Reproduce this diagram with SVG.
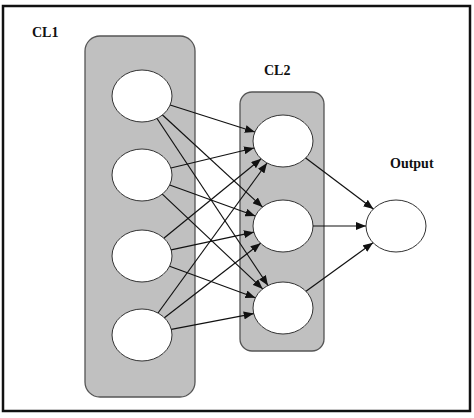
<svg xmlns="http://www.w3.org/2000/svg" width="474" height="418" viewBox="0 0 474 418">
<style>
.lbl{font-family:"Liberation Serif","Times New Roman",serif;font-weight:bold;font-size:14px;fill:#111}
.layer{fill:#c0c0c0;stroke:#555;stroke-width:1.3}
.node{fill:#fff;stroke:#333;stroke-width:1}
.con{stroke:#111;stroke-width:1.2;fill:none;marker-end:url(#ah)}
</style>
<defs>
<marker id="ah" markerWidth="10" markerHeight="8" refX="10" refY="4" orient="auto" markerUnits="userSpaceOnUse">
<path d="M0,0 L10,4 L0,8 z" fill="#111"/>
</marker>
</defs>
<rect x="0" y="0" width="474" height="418" fill="#fff"/>
<rect x="3" y="6" width="467" height="405" fill="#fff" stroke="#111" stroke-width="2.5"/>
<g id="CL1">
<rect class="layer" x="85" y="36" width="110" height="361" rx="15"/>
<text class="lbl" x="32" y="37">CL1</text>
</g>
<g id="CL2">
<rect class="layer" x="240" y="92" width="84" height="259" rx="12"/>
<text class="lbl" x="264" y="75">CL2</text>
</g>
<g id="A1"><ellipse class="node" cx="142" cy="96" rx="30" ry="26"/></g>
<g id="A2"><ellipse class="node" cx="142" cy="175" rx="30" ry="26"/></g>
<g id="A3"><ellipse class="node" cx="142" cy="256" rx="30" ry="26"/></g>
<g id="A4"><ellipse class="node" cx="142" cy="335" rx="30" ry="26"/></g>
<g id="B1"><ellipse class="node" cx="283" cy="141" rx="30" ry="26"/></g>
<g id="B2"><ellipse class="node" cx="283" cy="226" rx="30" ry="26"/></g>
<g id="B3"><ellipse class="node" cx="283" cy="308" rx="30" ry="26"/></g>
<g id="Output">
<ellipse class="node" cx="396" cy="226" rx="30" ry="26"/>
<text class="lbl" x="390" y="168">Output</text>
</g>
<g id="connectors">
<line class="con" x1="170.1" y1="105.0" x2="254.9" y2="132.0"/>
<line class="con" x1="162.5" y1="115.0" x2="262.5" y2="207.1"/>
<line class="con" x1="157.0" y1="118.5" x2="268.0" y2="285.5"/>
<line class="con" x1="170.9" y1="168.0" x2="254.1" y2="148.0"/>
<line class="con" x1="169.7" y1="185.0" x2="255.3" y2="216.0"/>
<line class="con" x1="162.3" y1="194.1" x2="262.7" y2="288.9"/>
<line class="con" x1="163.8" y1="238.2" x2="261.2" y2="158.8"/>
<line class="con" x1="171.1" y1="249.8" x2="253.9" y2="232.2"/>
<line class="con" x1="169.6" y1="266.2" x2="255.4" y2="297.8"/>
<line class="con" x1="158.0" y1="313.0" x2="267.0" y2="163.0"/>
<line class="con" x1="164.4" y1="317.7" x2="260.6" y2="243.3"/>
<line class="con" x1="171.3" y1="329.4" x2="253.7" y2="313.6"/>
<line class="con" x1="305.7" y1="158.0" x2="373.4" y2="209.0"/>
<line class="con" x1="313" y1="226" x2="366" y2="226"/>
<line class="con" x1="306" y1="291.3" x2="373" y2="242.7"/>
</g>
</svg>
